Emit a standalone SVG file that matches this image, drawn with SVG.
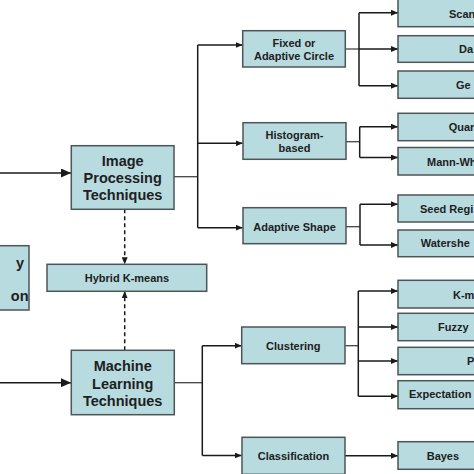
<svg xmlns="http://www.w3.org/2000/svg" width="474" height="474" viewBox="0 0 474 474">
  <style>
    .box { fill: #b7dbdf; stroke: #4d5556; stroke-width: 1.5; }
    .lbl { font-family: "Liberation Sans", Arial, sans-serif; font-weight: bold; fill: #1e2122; font-size: 11px; }
    .big { font-size: 14.5px; text-anchor: middle; }
    .mid { text-anchor: middle; }
    .end { font-size: 14.5px; text-anchor: end; }
    .wire { fill: none; stroke: #1a1a1a; stroke-width: 1.5; }
    .stub { fill: none; stroke: #444; stroke-width: 1.3; }
    .dash { fill: none; stroke: #1a1a1a; stroke-width: 1.5; stroke-dasharray: 4 3; }
  </style>
  <defs>
    <marker id="ah" markerUnits="userSpaceOnUse" markerWidth="7" markerHeight="6" refX="7" refY="3" orient="auto">
      <path d="M0,0 L7,3 L0,6 z" fill="#1a1a1a"/>
    </marker>
    <marker id="ahBig" markerUnits="userSpaceOnUse" markerWidth="10" markerHeight="9" refX="10" refY="4.5" orient="auto">
      <path d="M0,0 L10,4.5 L0,9 z" fill="#1a1a1a"/>
    </marker>
  </defs>

  <!-- connectors -->
  <g id="connectors">
    <path class="wire" d="M0,173 H71" marker-end="url(#ahBig)"/>
    <path class="wire" d="M0,382.7 H71" marker-end="url(#ahBig)"/>

    <!-- image processing fan-out -->
    <path class="stub" d="M174,176.7 H197.7"/>
    <path class="wire" d="M197.7,45 V227.7"/>
    <path class="wire" d="M197.7,45 H242.7" marker-end="url(#ah)"/>
    <path class="wire" d="M197.7,143.3 H242.7" marker-end="url(#ah)"/>
    <path class="wire" d="M197.7,227.7 H242.7" marker-end="url(#ah)"/>

    <!-- machine learning fan-out -->
    <path class="stub" d="M174.3,382.7 H202.3"/>
    <path class="wire" d="M202.3,345.7 V455.5"/>
    <path class="wire" d="M202.3,345.7 H241.7" marker-end="url(#ah)"/>
    <path class="wire" d="M202.3,455.5 H241.7" marker-end="url(#ah)"/>

    <!-- hybrid links -->
    <path class="dash" d="M124.7,209.3 V264.3" marker-end="url(#ah)"/>
    <path class="dash" d="M124.7,350.3 V291.3" marker-end="url(#ah)"/>

    <!-- fixed or adaptive circle -->
    <path class="stub" d="M345.3,49 H359"/>
    <path class="wire" d="M359,12.7 V85.7"/>
    <path class="wire" d="M359,12.7 H398" marker-end="url(#ah)"/>
    <path class="wire" d="M359,49 H398" marker-end="url(#ah)"/>
    <path class="wire" d="M359,85.7 H398" marker-end="url(#ah)"/>

    <!-- histogram-based -->
    <path class="stub" d="M346,141.7 H359.7"/>
    <path class="wire" d="M359.7,126.7 V157.5"/>
    <path class="wire" d="M359.7,126.7 H398" marker-end="url(#ah)"/>
    <path class="wire" d="M359.7,157.5 H398" marker-end="url(#ah)"/>

    <!-- adaptive shape -->
    <path class="stub" d="M346,226.7 H360"/>
    <path class="wire" d="M360,204.2 V245"/>
    <path class="wire" d="M360,204.2 H398" marker-end="url(#ah)"/>
    <path class="wire" d="M360,245 H398" marker-end="url(#ah)"/>

    <!-- clustering -->
    <path class="stub" d="M345,345.7 H358.3"/>
    <path class="wire" d="M358.3,291 V396.3"/>
    <path class="wire" d="M358.3,291 H398" marker-end="url(#ah)"/>
    <path class="wire" d="M358.3,327 H398" marker-end="url(#ah)"/>
    <path class="wire" d="M358.3,361 H398" marker-end="url(#ah)"/>
    <path class="wire" d="M358.3,396.3 H398" marker-end="url(#ah)"/>

    <!-- classification -->
    <path class="wire" d="M345,455.7 H398" marker-end="url(#ah)"/>
  </g>

  <!-- root node, mostly beyond the left edge -->
  <g id="root">
    <rect class="box" x="-80" y="245.7" width="109" height="64.3"/>
    <text class="lbl end" x="24" y="268">y</text>
    <text class="lbl end" x="28.5" y="301">on</text>
  </g>

  <g id="image-processing">
    <rect class="box" x="71.3" y="145.7" width="102.7" height="63.6"/>
    <text class="lbl big" x="122.7" y="166">Image</text>
    <text class="lbl big" x="122.7" y="183.3">Processing</text>
    <text class="lbl big" x="122.7" y="200">Techniques</text>
  </g>

  <g id="hybrid-kmeans">
    <rect class="box" x="47" y="264.3" width="159.7" height="27"/>
    <text class="lbl mid" x="127" y="281.5">Hybrid K-means</text>
  </g>

  <g id="machine-learning">
    <rect class="box" x="71.3" y="350.3" width="103" height="64.4"/>
    <text class="lbl big" x="122.7" y="371">Machine</text>
    <text class="lbl big" x="122.7" y="388.7">Learning</text>
    <text class="lbl big" x="122.7" y="406">Techniques</text>
  </g>

  <g id="fixed-adaptive-circle">
    <rect class="box" x="242.7" y="30.7" width="102.6" height="36.3"/>
    <text class="lbl mid" x="294" y="46.5">Fixed or</text>
    <text class="lbl mid" x="294" y="60">Adaptive Circle</text>
  </g>

  <g id="histogram-based">
    <rect class="box" x="243" y="122.7" width="103" height="36.6"/>
    <text class="lbl mid" x="294.5" y="139">Histogram-</text>
    <text class="lbl mid" x="294.5" y="151.7">based</text>
  </g>

  <g id="adaptive-shape">
    <rect class="box" x="243" y="207.7" width="103" height="36"/>
    <text class="lbl mid" x="294.5" y="230.7">Adaptive Shape</text>
  </g>

  <g id="clustering">
    <rect class="box" x="241.7" y="327" width="103.3" height="36.7"/>
    <text class="lbl mid" x="293.3" y="349.7">Clustering</text>
  </g>

  <g id="classification">
    <rect class="box" x="242" y="437.3" width="103" height="37"/>
    <text class="lbl mid" x="293.5" y="460">Classification</text>
  </g>

  <!-- leaf methods, running off the right edge -->
  <g id="leaf-scan">
    <rect class="box" x="398" y="-1" width="110" height="27.7"/>
    <text class="lbl" x="449" y="18">Scan</text>
  </g>
  <g id="leaf-da">
    <rect class="box" x="398" y="35.7" width="110" height="26.6"/>
    <text class="lbl" x="459" y="53">Da</text>
  </g>
  <g id="leaf-ge">
    <rect class="box" x="398" y="71" width="110" height="27.3"/>
    <text class="lbl" x="456" y="89">Ge</text>
  </g>
  <g id="leaf-quar">
    <rect class="box" x="398" y="113.3" width="110" height="27.4"/>
    <text class="lbl" x="448.7" y="130.5">Quar</text>
  </g>
  <g id="leaf-mann-wh">
    <rect class="box" x="398" y="147.5" width="110" height="27.5"/>
    <text class="lbl" x="427" y="165.5">Mann-Wh</text>
  </g>
  <g id="leaf-seed-region">
    <rect class="box" x="398" y="195" width="110" height="27"/>
    <text class="lbl" x="420" y="213">Seed Regi</text>
  </g>
  <g id="leaf-watershed">
    <rect class="box" x="398" y="230" width="110" height="26.7"/>
    <text class="lbl" x="420.7" y="246.5">Watershe</text>
  </g>
  <g id="leaf-kmeans">
    <rect class="box" x="398" y="280.3" width="110" height="27.7"/>
    <text class="lbl" x="453" y="298.5">K-m</text>
  </g>
  <g id="leaf-fuzzy">
    <rect class="box" x="398" y="313.3" width="110" height="27.4"/>
    <text class="lbl" x="438" y="331">Fuzzy</text>
  </g>
  <g id="leaf-p">
    <rect class="box" x="398" y="347.3" width="110" height="27.4"/>
    <text class="lbl" x="467" y="364.5">P</text>
  </g>
  <g id="leaf-expectation">
    <rect class="box" x="398" y="380.7" width="110" height="28"/>
    <text class="lbl" x="409" y="398">Expectation</text>
  </g>
  <g id="leaf-bayes">
    <rect class="box" x="398" y="441.7" width="110" height="27.6"/>
    <text class="lbl" x="426.7" y="460">Bayes</text>
  </g>
</svg>
